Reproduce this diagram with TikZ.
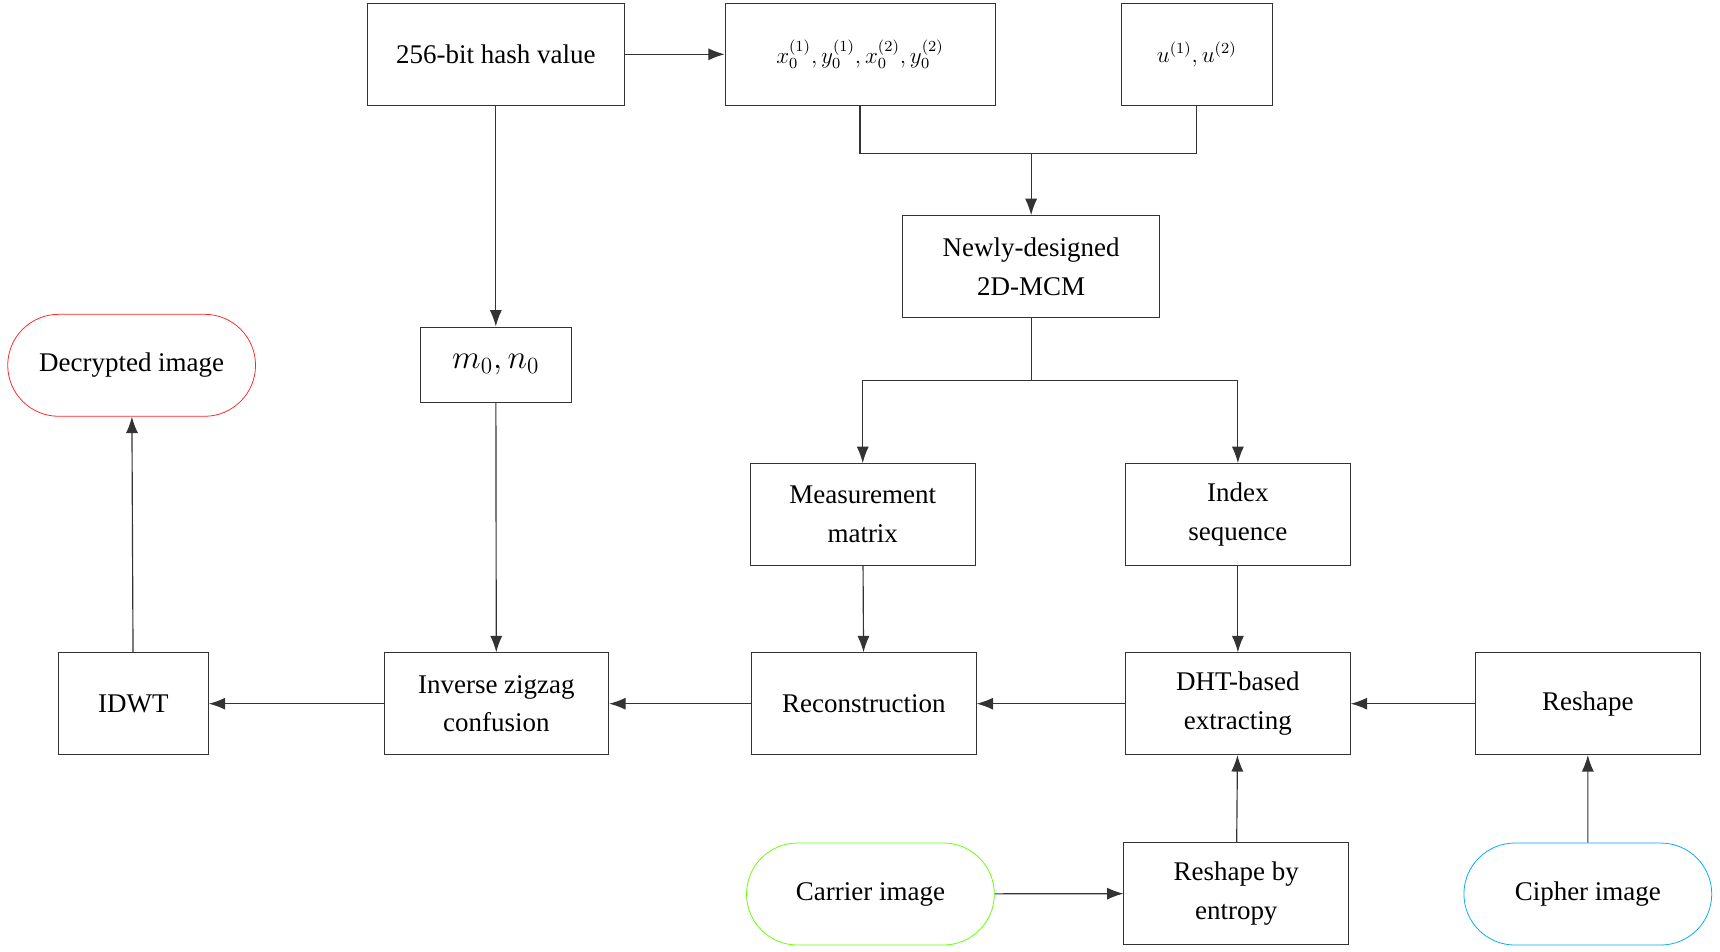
\documentclass[tikz,border=0pt]{standalone}
\usepackage{fontspec}
\setmainfont{Liberation Serif}
\usetikzlibrary{shapes, arrows.meta}

\begin{document}
\begin{tikzpicture}[
			 x=0.02cm, y=-0.02cm,
			 every node/.style={anchor=center, align=center, font=\fontsize{14}{20}\selectfont, inner sep=2pt},
			 process/.style={draw=black!80, thin, fill=white, minimum height=1.86cm},
			 term/.style={draw, rounded rectangle, minimum width=4.66cm, minimum height=1.86cm},
			 to/.style={-{Latex[length=3mm,width=2.2mm]}, semithick, draw=black!80}
			 ]
			 \useasboundingbox (0,0) rectangle (1568,867);

			 % top row
			 \node[process, minimum width=4.68cm] (hash) at (452,49.5) {256-bit hash value};
			 \node[process, minimum width=4.92cm] (init) at (784,49.5) {\large $x_0^{(1)}, y_0^{(1)}, x_0^{(2)}, y_0^{(2)}$};
			 \node[process, minimum width=2.76cm] (ctrl) at (1091,49.5) {\large $u^{(1)}, u^{(2)}$};

			 \node[process, minimum width=4.68cm] (mcm) at (940,243) {Newly-designed\\2D-MCM};
			 \node[process, minimum width=2.76cm, minimum height=1.38cm] (key) at (452,332.5) {\LARGE $m_0, n_0$};
			 \node[term, draw=red!85] (dec) at (120,333) {Decrypted image};

			 \node[process, minimum width=4.1cm] (meas) at (786.5,469) {Measurement\\matrix};
			 \node[process, minimum width=4.1cm] (index) at (1128.5,469) {Index\\sequence};

			 % main row
			 \node[process, minimum width=2.74cm] (idwt) at (121.5,641.5) {IDWT};
			 \node[process, minimum width=4.1cm] (zigzag) at (452.5,641.5) {Inverse zigzag\\confusion};
			 \node[process, minimum width=4.1cm] (recon) at (787.5,641.5) {Reconstruction};
			 \node[process, minimum width=4.1cm] (dht) at (1128.5,641.5) {DHT-based\\extracting};
			 \node[process, minimum width=4.1cm] (reshape) at (1447.5,641.5) {Reshape};

			 % bottom row
			 \node[term, draw=green!60!yellow] (carrier) at (793.5,815) {Carrier image};
			 \node[process, minimum width=4.1cm] (entropy) at (1127,814.5) {Reshape by\\entropy};
			 \node[term, draw=cyan] (cipher) at (1447.5,815) {Cipher image};

			 \coordinate (join) at (940,140);
			 \coordinate (split) at (940,347);

			 \draw[to] (hash) -- (init);
			 \draw[to] (hash) -- (key);
			 \draw[semithick, draw=black!80] (init.south) |- (join) -| (ctrl.south);
			 \draw[to] (join) -- (mcm);
			 \draw[semithick, draw=black!80] (mcm.south) -- (split);
			 \draw[to] (split) -| (meas.north);
			 \draw[to] (split) -| (index.north);
			 \draw[to] (meas) -- (recon);
			 \draw[to] (index) -- (dht);
			 \draw[to] (key) -- (zigzag);
			 \draw[to] (dht) -- (recon);
			 \draw[to] (recon) -- (zigzag);
			 \draw[to] (zigzag) -- (idwt);
			 \draw[to] (idwt) -- (dec);
			 \draw[to] (reshape) -- (dht);
			 \draw[to] (cipher) -- (reshape);
			 \draw[to] (carrier) -- (entropy);
			 \draw[to] (entropy) -- (dht);

		\end{tikzpicture}
\end{document}
